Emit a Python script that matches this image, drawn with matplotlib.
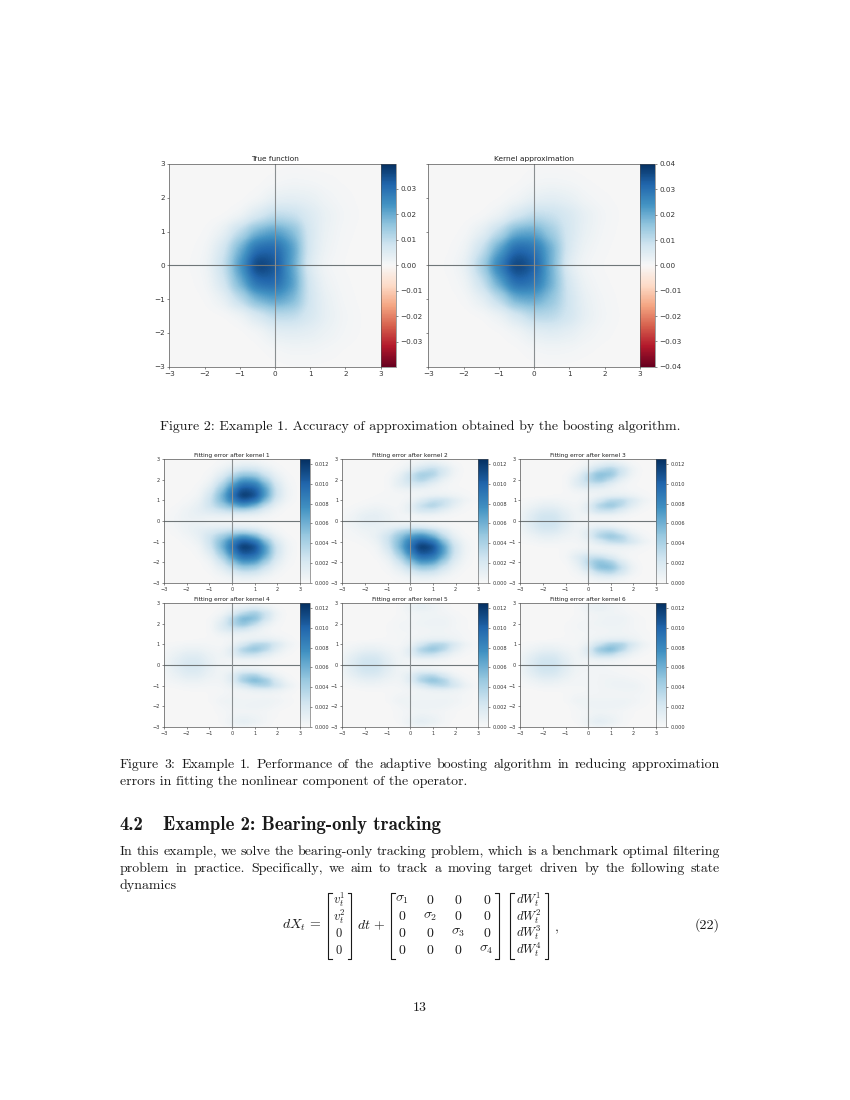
import numpy as np
import matplotlib
matplotlib.use('Agg')
import matplotlib.pyplot as plt
from matplotlib.colors import LinearSegmentedColormap
from matplotlib.lines import Line2D

# values, x = -3..3 step 0.5, rows run from y = 3 down to y = -3
# big panels: step 0.5 in y, units of 1e-3
true_fn = [
    [0, 0, 0, 0, 0, 0, .1, .2, .1, 0, 0, 0, 0],
    [0, 0, 0, 0, 0, .1, .5, 1, .8, .5, .2, 0, 0],
    [0, 0, 0, 0, 0, .5, 3, 3.5, 3, 1.2, .5, .1, 0],
    [0, 0, 0, 0, .8, 5.5, 10, 9, 5.5, 2.5, .8, .2, 0],
    [0, 0, .2, 2.2, 10, 19, 22, 18, 6, 2, .5, .1, 0],
    [0, .1, .6, 6, 19, 31, 32, 23, 5.5, 1.5, .3, 0, 0],
    [0, .2, 1, 8, 23, 39, 35, 21, 4, .8, .2, 0, 0],
    [0, .1, .6, 6, 19, 31, 32, 23, 6, 1.5, .4, 0, 0],
    [0, 0, .2, 2.2, 10, 19, 22, 19, 7, 2.5, .6, .1, 0],
    [0, 0, 0, 0, .8, 5.5, 10, 10, 6.5, 3, 1, .2, 0],
    [0, 0, 0, 0, 0, .5, 3.5, 4, 3.5, 2, .8, .2, 0],
    [0, 0, 0, 0, 0, .1, .6, 1.2, 1.2, .7, .2, 0, 0],
    [0, 0, 0, 0, 0, 0, .1, .2, .2, .1, 0, 0, 0],
]
kernel_fn = [
    [0, 0, 0, 0, 0, 0, .2, .2, .1, 0, 0, 0, 0],
    [0, 0, 0, 0, 0, .1, .8, 1, .8, .3, .1, 0, 0],
    [0, 0, 0, 0, .1, .9, 3, 4, 3, 1, .4, .1, 0],
    [0, 0, 0, .1, 1.5, 6, 10, 9, 6.5, 3, 1, .2, 0],
    [0, 0, .3, 3, 10, 20, 21, 14, 6.5, 2.5, .7, .1, 0],
    [0, .1, 1, 8, 21, 32, 30, 20, 5.5, 1.5, .4, 0, 0],
    [0, .3, 2, 13, 28, 39, 34, 19, 3.5, .8, .2, 0, 0],
    [0, .1, 1, 8, 21, 32, 30, 20, 6, 1.5, .4, 0, 0],
    [0, 0, .3, 3, 10, 20, 21, 16, 7.5, 2.5, .8, .1, 0],
    [0, 0, 0, .1, 1.5, 6, 11, 11, 7.5, 3, 1, .2, 0],
    [0, 0, 0, 0, .1, .9, 3.5, 4.5, 3.5, 1.5, .5, .1, 0],
    [0, 0, 0, 0, 0, .1, .8, 1.2, 1, .4, .1, 0, 0],
    [0, 0, 0, 0, 0, 0, .1, .2, .1, 0, 0, 0, 0],
]

# small panels: step 0.25 in y, units of 1e-4
err_1 = [
    [0, 0, 0, 0, 0, 1, 2, 3, 2, 1, 0, 0, 0],
    [0, 0, 0, 0, 0, 2, 6, 10, 9, 4, 1, 0, 0],
    [0, 0, 0, 0, 1, 6, 16, 26, 24, 12, 3, 0, 0],
    [0, 0, 0, 0, 2, 12, 32, 48, 44, 24, 7, 1, 0],
    [0, 0, 0, 0, 4, 22, 50, 72, 68, 40, 12, 2, 0],
    [0, 0, 0, 1, 8, 34, 68, 95, 90, 58, 18, 3, 0],
    [0, 0, 0, 2, 14, 46, 84, 112, 106, 68, 22, 4, 0],
    [0, 0, 1, 3, 20, 55, 92, 122, 112, 68, 22, 4, 0],
    [0, 0, 2, 6, 24, 54, 84, 106, 95, 54, 16, 3, 0],
    [0, 1, 4, 9, 24, 42, 60, 76, 62, 30, 8, 1, 0],
    [0, 2, 6, 11, 17, 25, 32, 36, 28, 12, 3, 0, 0],
    [1, 3, 7, 9, 9, 9, 10, 10, 8, 4, 1, 0, 0],
    [1, 3, 6, 6, 4, 3, 2, 2, 1, 1, 0, 0, 0],
    [1, 3, 7, 9, 9, 9, 10, 10, 8, 4, 1, 0, 0],
    [0, 2, 6, 11, 17, 25, 32, 36, 28, 12, 3, 0, 0],
    [0, 1, 4, 9, 24, 42, 60, 76, 62, 30, 8, 1, 0],
    [0, 0, 2, 6, 24, 54, 84, 106, 95, 54, 16, 3, 0],
    [0, 0, 1, 3, 20, 55, 92, 122, 112, 68, 22, 4, 0],
    [0, 0, 0, 2, 14, 46, 84, 112, 106, 68, 22, 4, 0],
    [0, 0, 0, 1, 8, 34, 68, 95, 90, 58, 18, 3, 0],
    [0, 0, 0, 0, 4, 22, 50, 72, 68, 40, 12, 2, 0],
    [0, 0, 0, 0, 2, 12, 32, 48, 44, 24, 7, 1, 0],
    [0, 0, 0, 0, 1, 6, 16, 26, 24, 12, 3, 0, 0],
    [0, 0, 0, 0, 0, 2, 6, 10, 9, 4, 1, 0, 0],
    [0, 0, 0, 0, 0, 1, 2, 3, 2, 1, 0, 0, 0],
]
err_2 = [
    [0, 0, 0, 0, 0, 0, 2, 3, 3, 1, 0, 0, 0],
    [0, 0, 0, 0, 0, 1, 5, 10, 14, 8, 2, 0, 0],
    [0, 0, 0, 0, 0, 3, 11, 26, 34, 19, 4, 0, 0],
    [0, 0, 0, 0, 1, 7, 26, 44, 40, 18, 3, 0, 0],
    [0, 0, 0, 0, 1, 11, 27, 40, 26, 8, 2, 0, 0],
    [0, 0, 0, 0, 1, 11, 19, 21, 10, 4, 1, 0, 0],
    [0, 0, 0, 0, 1, 5, 7, 6, 5, 3, 2, 1, 0],
    [0, 0, 0, 1, 2, 2, 3, 5, 7, 7, 5, 2, 0],
    [0, 0, 1, 2, 2, 2, 5, 16, 29, 29, 14, 5, 1],
    [0, 1, 3, 5, 3, 2, 10, 30, 40, 27, 10, 2, 0],
    [1, 3, 7, 9, 6, 3, 10, 22, 22, 11, 4, 1, 0],
    [2, 5, 11, 12, 8, 3, 3, 5, 5, 3, 1, 0, 0],
    [2, 6, 12, 12, 8, 4, 2, 2, 1, 1, 0, 0, 0],
    [2, 5, 9, 9, 8, 10, 14, 14, 9, 4, 1, 0, 0],
    [1, 3, 6, 8, 16, 34, 46, 50, 38, 18, 4, 0, 0],
    [1, 2, 4, 9, 24, 48, 70, 80, 64, 32, 8, 1, 0],
    [0, 1, 2, 6, 24, 54, 86, 106, 95, 54, 16, 3, 0],
    [0, 0, 1, 3, 20, 55, 92, 122, 112, 68, 22, 4, 0],
    [0, 0, 0, 2, 14, 46, 84, 112, 106, 68, 22, 4, 0],
    [0, 0, 0, 1, 8, 34, 68, 95, 90, 58, 18, 3, 0],
    [0, 0, 0, 0, 4, 22, 50, 72, 68, 40, 12, 2, 0],
    [0, 0, 0, 0, 2, 12, 32, 48, 44, 24, 7, 1, 0],
    [0, 0, 0, 0, 1, 6, 16, 26, 24, 12, 3, 0, 0],
    [0, 0, 0, 0, 0, 2, 6, 10, 9, 4, 1, 0, 0],
    [0, 0, 0, 0, 0, 1, 2, 3, 2, 1, 0, 0, 0],
]
err_3 = [
    [0, 0, 0, 0, 0, 0, 2, 3, 3, 1, 0, 0, 0],
    [0, 0, 0, 0, 0, 1, 5, 12, 18, 10, 2, 0, 0],
    [0, 0, 0, 0, 0, 3, 14, 32, 42, 24, 5, 0, 0],
    [0, 0, 0, 0, 1, 8, 32, 55, 50, 22, 4, 0, 0],
    [0, 0, 0, 0, 1, 14, 34, 50, 32, 10, 2, 0, 0],
    [0, 0, 0, 0, 1, 14, 24, 26, 12, 4, 1, 0, 0],
    [0, 0, 0, 0, 1, 6, 9, 8, 6, 4, 2, 1, 0],
    [0, 0, 0, 1, 1, 2, 4, 6, 9, 9, 6, 2, 0],
    [1, 3, 5, 5, 3, 2, 6, 20, 36, 36, 18, 6, 1],
    [2, 6, 10, 10, 6, 3, 12, 38, 50, 34, 12, 3, 0],
    [4, 11, 18, 18, 10, 4, 12, 28, 28, 14, 5, 1, 0],
    [5, 15, 24, 24, 13, 5, 4, 6, 6, 4, 1, 0, 0],
    [6, 16, 26, 26, 14, 5, 3, 3, 2, 1, 0, 0, 0],
    [5, 15, 24, 24, 13, 5, 6, 10, 8, 4, 1, 0, 0],
    [4, 11, 18, 18, 10, 5, 13, 30, 34, 18, 5, 1, 0],
    [2, 6, 10, 10, 6, 4, 13, 38, 50, 38, 14, 3, 0],
    [1, 3, 5, 5, 3, 3, 7, 18, 32, 34, 20, 7, 1],
    [0, 0, 1, 1, 1, 2, 4, 5, 7, 8, 6, 2, 0],
    [0, 0, 0, 0, 2, 8, 11, 8, 6, 4, 2, 1, 0],
    [0, 0, 0, 0, 2, 14, 28, 30, 18, 6, 1, 0, 0],
    [0, 0, 0, 0, 1, 10, 34, 54, 44, 18, 3, 0, 0],
    [0, 0, 0, 0, 0, 6, 26, 55, 56, 28, 5, 0, 0],
    [0, 0, 0, 0, 0, 3, 12, 30, 36, 20, 4, 0, 0],
    [0, 0, 0, 0, 0, 1, 4, 10, 12, 6, 1, 0, 0],
    [0, 0, 0, 0, 0, 0, 1, 2, 2, 1, 0, 0, 0],
]
err_4 = [
    [0, 0, 0, 0, 0, 0, 2, 3, 3, 1, 0, 0, 0],
    [0, 0, 0, 0, 0, 1, 5, 13, 20, 11, 2, 0, 0],
    [0, 0, 0, 0, 0, 3, 15, 35, 46, 26, 5, 0, 0],
    [0, 0, 0, 0, 1, 8, 34, 60, 55, 24, 4, 0, 0],
    [0, 0, 0, 0, 1, 14, 36, 54, 34, 11, 2, 0, 0],
    [0, 0, 0, 0, 1, 14, 24, 27, 13, 4, 1, 0, 0],
    [0, 0, 0, 0, 1, 6, 9, 8, 6, 4, 2, 1, 0],
    [0, 0, 0, 1, 1, 2, 4, 6, 9, 10, 7, 2, 0],
    [1, 2, 4, 4, 3, 2, 6, 20, 38, 38, 19, 6, 1],
    [2, 5, 8, 8, 5, 3, 13, 40, 52, 36, 13, 3, 0],
    [3, 8, 14, 14, 8, 4, 12, 28, 28, 14, 5, 1, 0],
    [4, 11, 18, 18, 10, 4, 4, 6, 6, 4, 1, 0, 0],
    [4, 12, 20, 20, 11, 4, 3, 3, 2, 1, 0, 0, 0],
    [4, 11, 18, 18, 10, 4, 6, 12, 10, 5, 1, 0, 0],
    [3, 8, 14, 14, 8, 4, 14, 36, 42, 22, 6, 1, 0],
    [2, 5, 8, 8, 5, 4, 14, 44, 60, 46, 17, 3, 0],
    [1, 2, 4, 4, 3, 3, 8, 20, 36, 40, 24, 8, 1],
    [0, 0, 1, 1, 1, 2, 4, 5, 8, 9, 7, 3, 0],
    [0, 0, 0, 0, 1, 3, 5, 4, 4, 4, 3, 1, 0],
    [0, 0, 0, 0, 1, 5, 6, 5, 6, 7, 5, 2, 0],
    [0, 0, 0, 0, 0, 3, 5, 6, 7, 6, 3, 1, 0],
    [0, 0, 0, 0, 0, 2, 4, 4, 4, 3, 1, 0, 0],
    [0, 0, 0, 0, 0, 1, 5, 8, 6, 3, 1, 0, 0],
    [0, 0, 0, 0, 0, 1, 7, 12, 8, 3, 0, 0, 0],
    [0, 0, 0, 0, 0, 0, 3, 5, 3, 1, 0, 0, 0],
]
err_5 = [
    [0, 0, 0, 0, 0, 1, 5, 10, 6, 2, 0, 0, 0],
    [0, 0, 0, 0, 0, 1, 7, 11, 7, 3, 0, 0, 0],
    [0, 0, 0, 0, 0, 1, 4, 5, 5, 4, 2, 0, 0],
    [0, 0, 0, 0, 0, 2, 3, 5, 6, 6, 3, 1, 0],
    [0, 0, 0, 0, 1, 3, 4, 6, 7, 7, 3, 1, 0],
    [0, 0, 0, 0, 1, 3, 4, 4, 5, 5, 3, 1, 0],
    [0, 0, 0, 0, 1, 2, 3, 4, 5, 5, 4, 2, 0],
    [0, 0, 0, 1, 1, 2, 4, 7, 9, 9, 6, 2, 0],
    [1, 3, 5, 5, 3, 2, 6, 22, 38, 38, 18, 6, 1],
    [2, 6, 10, 10, 6, 3, 13, 40, 52, 36, 12, 3, 0],
    [4, 11, 18, 18, 10, 4, 12, 28, 28, 14, 5, 1, 0],
    [5, 15, 24, 24, 13, 5, 4, 6, 6, 4, 1, 0, 0],
    [6, 16, 26, 26, 14, 5, 3, 3, 2, 1, 0, 0, 0],
    [5, 15, 24, 24, 13, 5, 6, 10, 8, 4, 1, 0, 0],
    [4, 11, 18, 18, 10, 5, 13, 32, 36, 19, 5, 1, 0],
    [2, 6, 10, 10, 6, 4, 13, 40, 54, 40, 15, 3, 0],
    [1, 3, 5, 5, 3, 3, 7, 18, 32, 36, 21, 7, 1],
    [0, 0, 1, 1, 1, 2, 4, 5, 7, 8, 6, 3, 0],
    [0, 0, 0, 0, 1, 4, 5, 5, 5, 5, 4, 2, 0],
    [0, 0, 0, 0, 1, 6, 6, 6, 6, 7, 5, 2, 0],
    [0, 0, 0, 0, 0, 3, 6, 7, 7, 6, 3, 1, 0],
    [0, 0, 0, 0, 0, 2, 4, 5, 4, 3, 1, 0, 0],
    [0, 0, 0, 0, 0, 2, 5, 9, 7, 3, 1, 0, 0],
    [0, 0, 0, 0, 0, 1, 8, 13, 9, 3, 0, 0, 0],
    [0, 0, 0, 0, 0, 0, 3, 6, 3, 1, 0, 0, 0],
]
err_6 = [
    [0, 0, 0, 0, 0, 1, 5, 9, 5, 2, 0, 0, 0],
    [0, 0, 0, 0, 0, 1, 7, 10, 6, 3, 0, 0, 0],
    [0, 0, 0, 0, 0, 1, 4, 5, 5, 4, 2, 0, 0],
    [0, 0, 0, 0, 0, 2, 3, 5, 7, 7, 3, 1, 0],
    [0, 0, 0, 0, 1, 3, 4, 6, 7, 6, 3, 1, 0],
    [0, 0, 0, 0, 1, 3, 4, 4, 5, 5, 3, 1, 0],
    [0, 0, 0, 0, 1, 2, 3, 4, 5, 5, 4, 2, 0],
    [0, 0, 0, 1, 1, 2, 4, 8, 10, 11, 7, 2, 0],
    [1, 3, 5, 5, 3, 2, 8, 26, 44, 42, 19, 6, 1],
    [2, 6, 10, 10, 6, 3, 16, 48, 60, 38, 12, 3, 0],
    [4, 11, 18, 18, 10, 4, 13, 32, 32, 15, 5, 1, 0],
    [5, 15, 24, 24, 13, 5, 5, 7, 7, 4, 1, 0, 0],
    [6, 16, 26, 26, 14, 5, 3, 3, 2, 1, 0, 0, 0],
    [5, 15, 24, 24, 13, 5, 4, 4, 3, 2, 1, 0, 0],
    [4, 11, 18, 18, 10, 4, 3, 4, 4, 3, 2, 1, 0],
    [2, 6, 10, 10, 6, 3, 3, 4, 6, 6, 4, 2, 0],
    [1, 3, 5, 5, 3, 3, 3, 4, 6, 7, 7, 3, 0],
    [0, 0, 1, 1, 1, 2, 3, 4, 4, 5, 5, 3, 0],
    [0, 0, 0, 0, 1, 4, 4, 4, 4, 4, 4, 2, 0],
    [0, 0, 0, 0, 1, 6, 6, 6, 6, 7, 5, 2, 0],
    [0, 0, 0, 0, 0, 3, 6, 7, 7, 6, 3, 1, 0],
    [0, 0, 0, 0, 0, 2, 4, 5, 4, 3, 1, 0, 0],
    [0, 0, 0, 0, 0, 2, 5, 9, 7, 3, 1, 0, 0],
    [0, 0, 0, 0, 0, 1, 8, 13, 9, 3, 0, 0, 0],
    [0, 0, 0, 0, 0, 0, 3, 6, 3, 1, 0, 0, 0],
]
err_panels = [err_1, err_2, err_3, err_4, err_5, err_6]
err_titles = ['Fitting error after kernel %d' % i for i in range(1, 7)]

axis_ticks = [-3, -2, -1, 0, 1, 2, 3]
axis_labels = ['\u22123', '\u22122', '\u22121', '0', '1', '2', '3']
cbar_big_1 = [-0.03, -0.02, -0.01, 0.0, 0.01, 0.02, 0.03]
cbar_big_2 = [-0.04, -0.03, -0.02, -0.01, 0.0, 0.01, 0.02, 0.03, 0.04]
cbar_small = [0.0, 0.002, 0.004, 0.006, 0.008, 0.010, 0.012]

W, H = 850.0, 1100.0
fig = plt.figure(figsize=(8.5, 11), dpi=100)
half_rdbu = LinearSegmentedColormap.from_list('half', plt.cm.RdBu(np.linspace(0.5, 1, 256)))


def px_axes(x0, y0, x1, y1):
    return fig.add_axes([x0 / W, 1 - y1 / H, (x1 - x0) / W, (y1 - y0) / H])


def panel(box, cbar_x1, grid, scale, cmap, vmin, vmax, title, ticks, cdec,
          title_fs, tick_fs, ylabels=True):
    x0, y0, x1, y1 = box
    ax = px_axes(x0, y0, x1, y1)
    grid = np.array(grid) * scale
    dx = 6.0 / (grid.shape[1] - 1) / 2
    dy = 6.0 / (grid.shape[0] - 1) / 2
    im = ax.imshow(grid, extent=[-3 - dx, 3 + dx, -3 - dy, 3 + dy], cmap=cmap, vmin=vmin, vmax=vmax,
                   interpolation='gaussian', aspect='auto')
    ax.set_xlim(-3, 3)
    ax.set_ylim(-3, 3)
    ax.axhline(0, color='#6f7678', lw=0.8)
    ax.axvline(0, color='#8a8f91', lw=0.8)
    ax.set_xticks(axis_ticks)
    ax.set_xticklabels(axis_labels)
    ax.set_yticks(axis_ticks)
    ax.set_yticklabels(axis_labels if ylabels else [])
    ax.tick_params(labelsize=tick_fs, length=1.5, width=0.4, pad=1.5, colors='#333333')
    ax.set_title(title, fontsize=title_fs, pad=2, color='#222222')
    for s in ax.spines.values():
        s.set_linewidth(0.5)
        s.set_color('#555555')
    cax = px_axes(x1, y0, cbar_x1, y1)
    cb = fig.colorbar(im, cax=cax)
    cb.set_ticks(ticks)
    cb.set_ticklabels([('%.' + str(cdec) + 'f') % t if t >= 0 else '\u2212' + ('%.' + str(cdec) + 'f') % -t
                       for t in ticks])
    cb.ax.tick_params(labelsize=tick_fs, length=1.5, width=0.4, pad=1.5, colors='#333333')
    cb.outline.set_linewidth(0.4)
    cb.outline.set_edgecolor('#555555')


panel((169.3, 164, 380.7, 366.7), 396.3, true_fn, 1e-3, 'RdBu', -0.0397, 0.0397, 'True function',
      cbar_big_1, 2, 5.3, 5.2)
panel((428.3, 164, 640, 366.7), 655.3, kernel_fn, 1e-3, 'RdBu', -0.04, 0.04, 'Kernel approximation',
      cbar_big_2, 2, 5.4, 5.2, ylabels=False)

small_x = [(164, 300, 310.3), (342.3, 478.3, 488), (520.3, 656, 666.3)]
small_y = [(459.3, 582.7), (603.3, 726.7)]
for i in range(6):
    xa, xb, xc = small_x[i % 3]
    ya, yb = small_y[i // 3]
    panel((xa, ya, xb, yb), xc, err_panels[i], 1e-4, half_rdbu, 0, 0.0125, err_titles[i],
          cbar_small, 3, 4.2, 3.6)


def page_text(x, y, s, fs=10, ha='left', family='cmr10', **kw):
    return fig.text(x / W, 1 - y / H, s, fontsize=fs, ha=ha, va='center', family=family,
                    color='#1a1a1a', **kw)


def justified(line, y, x0=120.0, x1=720.0, fs=10.0):
    # spread the words over the column like the typeset page
    r = fig.canvas.get_renderer()
    words = [page_text(x0, y, w, fs) for w in line.split()]
    widths = [t.get_window_extent(r).width for t in words]
    gap = (x1 - x0 - sum(widths)) / (len(words) - 1)
    x = x0
    for t, w in zip(words, widths):
        t.set_x(x / W)
        x += w + gap


def bracket(x0, x1, y0, y1):
    fig.add_artist(Line2D([x1 / W, x0 / W, x0 / W, x1 / W], [1 - y0 / H, 1 - y0 / H, 1 - y1 / H, 1 - y1 / H],
                          color='#1a1a1a', lw=0.8))


page_text(420, 427, 'Figure 2: Example 1. Accuracy of approximation obtained by the boosting algorithm.', 10, ha='center')
justified('Figure 3: Example 1. Performance of the adaptive boosting algorithm in reducing approximation', 765)
page_text(120, 782, 'errors in fitting the nonlinear component of the operator.', 10)
page_text(120, 824.5, '4.2', 13.5, family='cmb10')
page_text(163, 824.5, 'Example 2: Bearing-only tracking', 13.5, family='cmb10')
justified('In this example, we solve the bearing-only tracking problem, which is a benchmark optimal filtering', 852)
justified('problem in practice. Specifically, we aim to track a moving target driven by the following state', 869)
page_text(120, 886, 'dynamics', 10)

plt.rcParams['mathtext.fontset'] = 'cm'
row_y = [900, 916.7, 933.3, 950]
mid_y = 925
page_text(282, mid_y, r'$dX_t\, =$', 10)
vec_1 = [r'$v_t^1$', r'$v_t^2$', r'$0$', r'$0$']
mat_2 = [[r'$\sigma_1$', r'$0$', r'$0$', r'$0$'],
         [r'$0$', r'$\sigma_2$', r'$0$', r'$0$'],
         [r'$0$', r'$0$', r'$\sigma_3$', r'$0$'],
         [r'$0$', r'$0$', r'$0$', r'$\sigma_4$']]
vec_3 = [r'$dW_t^1$', r'$dW_t^2$', r'$dW_t^3$', r'$dW_t^4$']
col_x = [402, 430, 458.6, 486.7]
for r in range(4):
    page_text(339, row_y[r], vec_1[r], 9, ha='center')
    page_text(529, row_y[r], vec_3[r], 9, ha='center')
    for c in range(4):
        page_text(col_x[c], row_y[r], mat_2[r][c], 10, ha='center')
for xa, xb in [(328, 351), (391, 499), (510, 548)]:
    bracket(xa, xa + 3.5, 893, 959)
    bracket(xb, xb - 3.5, 893, 959)
page_text(357, mid_y, r'$dt\, +$', 10)
page_text(555, mid_y + 3, ',', 10)
page_text(720, mid_y, '(22)', 10, ha='right')
page_text(420, 1008, '13', 10, ha='center')

fig.savefig('out.png', dpi=100)
